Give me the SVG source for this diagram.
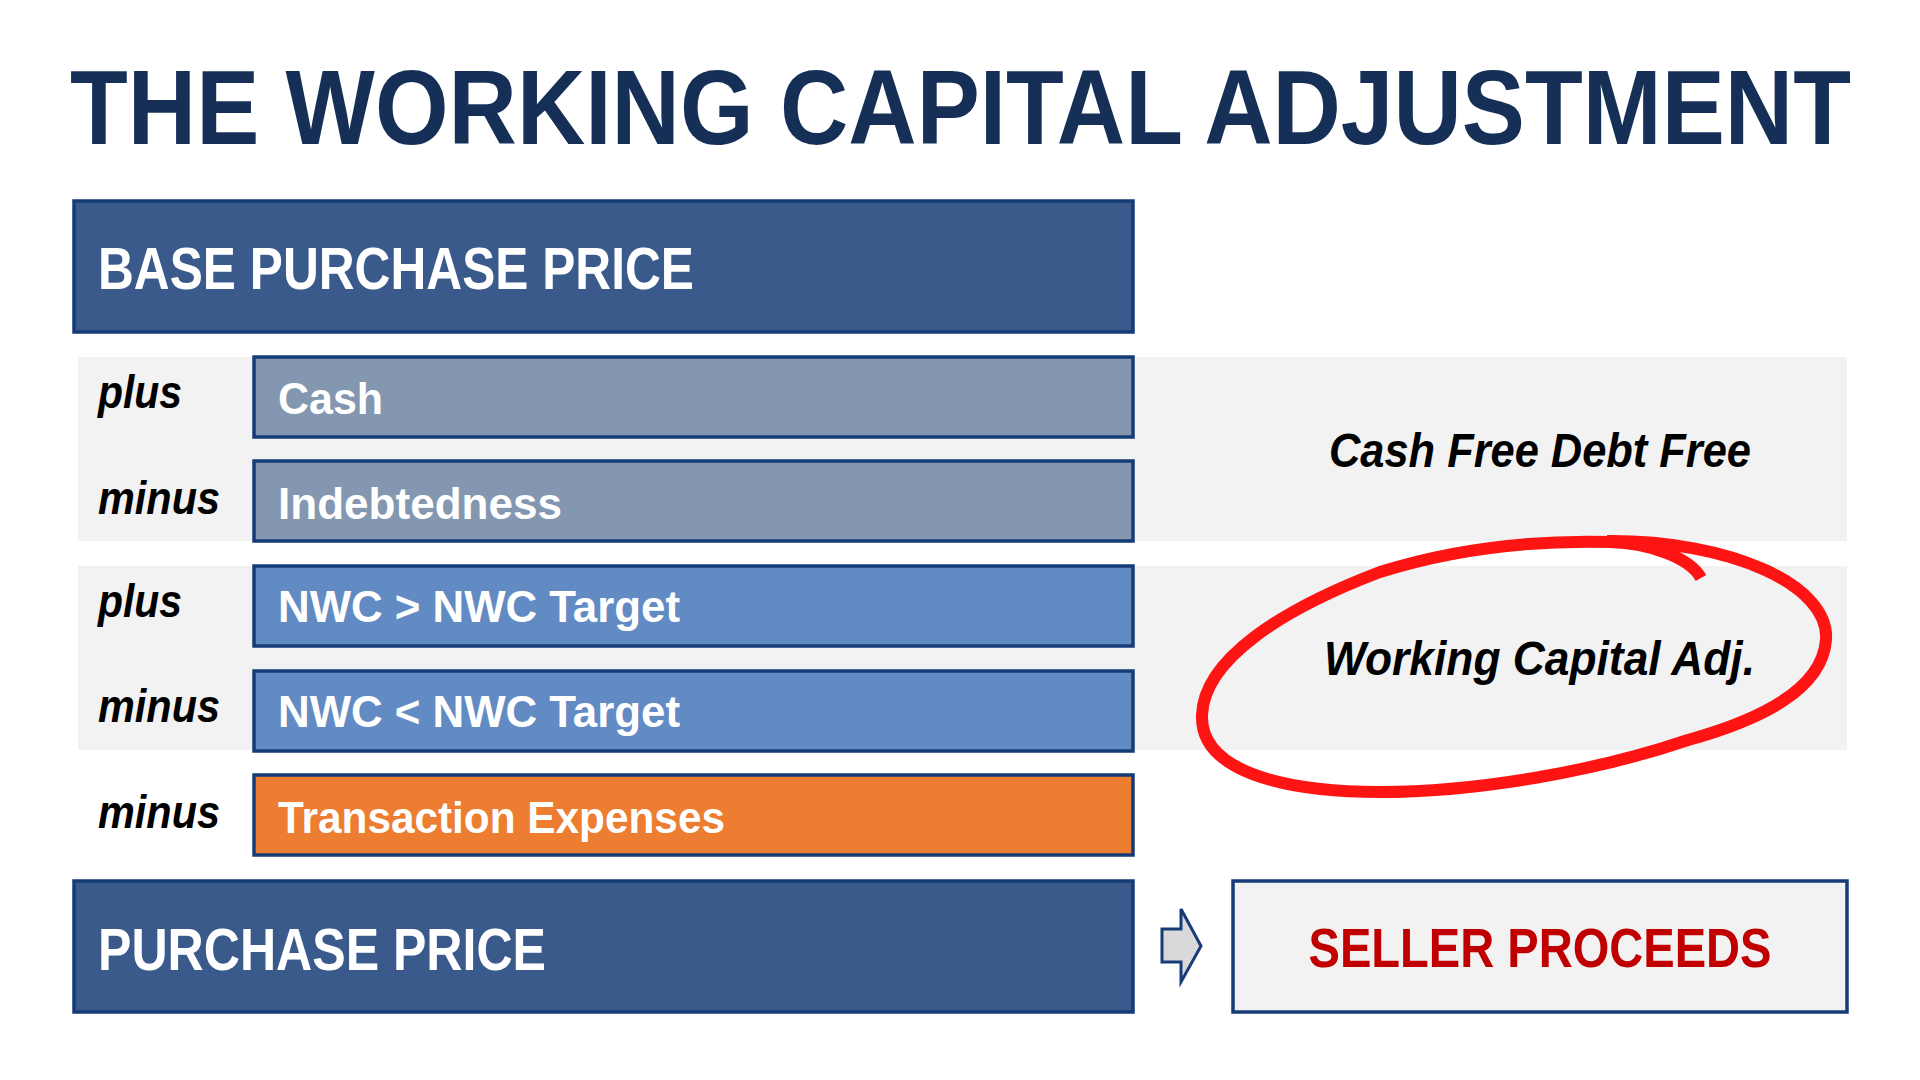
<svg xmlns="http://www.w3.org/2000/svg" width="1920" height="1080" viewBox="0 0 1920 1080">
<style>
.title{font-family:"Liberation Sans",Arial,sans-serif;font-weight:bold;fill:#152F57;}
.big{font-family:"Liberation Sans",Arial,sans-serif;font-weight:bold;fill:#FFFFFF;font-size:60px;}
.item{font-family:"Liberation Sans",Arial,sans-serif;font-weight:bold;fill:#FFFFFF;font-size:44px;}
.lbl{font-family:"Liberation Sans",Arial,sans-serif;font-weight:bold;font-style:italic;fill:#000000;font-size:46px;}
.side{font-family:"Liberation Sans",Arial,sans-serif;font-weight:bold;font-style:italic;fill:#000000;font-size:48px;}
.box{stroke:#163C78;stroke-width:3.5;}
.dark{fill:#3A5A8C;}
.grey{fill:#8497B0;}
.blue{fill:#628BC3;}
.orange{fill:#ED7D31;}
.band{fill:#F2F2F2;}
</style>
<rect width="1920" height="1080" fill="#FFFFFF"/>
<text class="title" transform="translate(70,144) scale(1,1.2)" x="0" y="0" font-size="88" textLength="1781" lengthAdjust="spacingAndGlyphs">THE WORKING CAPITAL ADJUSTMENT</text>

<g id="bands">
<rect class="band" x="78" y="357" width="1769" height="184"/>
<rect class="band" x="78" y="566" width="1769" height="184"/>
</g>

<g id="base">
<rect class="box dark" x="74" y="201" width="1059" height="131"/>
<text class="big" x="98" y="289" textLength="596" lengthAdjust="spacingAndGlyphs">BASE PURCHASE PRICE</text>
</g>

<g id="cash">
<text class="lbl" x="98" y="408" textLength="84" lengthAdjust="spacingAndGlyphs">plus</text>
<rect class="box grey" x="254" y="357" width="879" height="80"/>
<text class="item" x="278" y="414" textLength="105" lengthAdjust="spacingAndGlyphs">Cash</text>
</g>

<g id="debt">
<text class="lbl" x="98" y="514" textLength="122" lengthAdjust="spacingAndGlyphs">minus</text>
<rect class="box grey" x="254" y="461" width="879" height="80"/>
<text class="item" x="278" y="519" textLength="284" lengthAdjust="spacingAndGlyphs">Indebtedness</text>
</g>

<g id="nwcplus">
<text class="lbl" x="98" y="617" textLength="84" lengthAdjust="spacingAndGlyphs">plus</text>
<rect class="box blue" x="254" y="566" width="879" height="80"/>
<text class="item" x="278" y="622" textLength="402" lengthAdjust="spacingAndGlyphs">NWC &gt; NWC Target</text>
</g>

<g id="nwcminus">
<text class="lbl" x="98" y="722" textLength="122" lengthAdjust="spacingAndGlyphs">minus</text>
<rect class="box blue" x="254" y="671" width="879" height="80"/>
<text class="item" x="278" y="727" textLength="402" lengthAdjust="spacingAndGlyphs">NWC &lt; NWC Target</text>
</g>

<g id="expenses">
<text class="lbl" x="98" y="828" textLength="122" lengthAdjust="spacingAndGlyphs">minus</text>
<rect class="box orange" x="254" y="775" width="879" height="80"/>
<text class="item" x="278" y="833" textLength="447" lengthAdjust="spacingAndGlyphs">Transaction Expenses</text>
</g>

<g id="purchase">
<rect class="box dark" x="74" y="881" width="1059" height="131"/>
<text class="big" x="98" y="970" textLength="448" lengthAdjust="spacingAndGlyphs">PURCHASE PRICE</text>
</g>

<g id="cfdf">
<text class="side" x="1329" y="467" textLength="422" lengthAdjust="spacingAndGlyphs">Cash Free Debt Free</text>
</g>

<g id="wca">
<text class="side" x="1324" y="675" textLength="431" lengthAdjust="spacingAndGlyphs">Working Capital Adj.</text>
</g>

<g id="seller">
<rect x="1233" y="881" width="614" height="131" fill="#F2F2F2" class="box"/>
<text x="1540" y="967" text-anchor="middle" font-family="'Liberation Sans',Arial,sans-serif" font-weight="bold" font-size="56" fill="#C00000" textLength="463" lengthAdjust="spacingAndGlyphs">SELLER PROCEEDS</text>
</g>

<g id="connectors">
<path d="M1162 929 L1181 929 L1181 909 L1201 946 L1181 982 L1181 962 L1162 962 Z" fill="#D9D9D9" stroke="#163C78" stroke-width="3" stroke-linejoin="miter"/>
<path d="M1607 541 C1730 540 1830 585 1826 640 C1822 690 1760 720 1688 740 C1600 770 1480 792 1380 792 C1280 792 1200 770 1202 715 C1204 660 1280 610 1380 572 C1450 550 1530 540 1610 542 C1650 543 1690 558 1701 578" fill="none" stroke="#FF1414" stroke-width="12" stroke-linecap="butt" stroke-linejoin="round"/>
</g>
</svg>
